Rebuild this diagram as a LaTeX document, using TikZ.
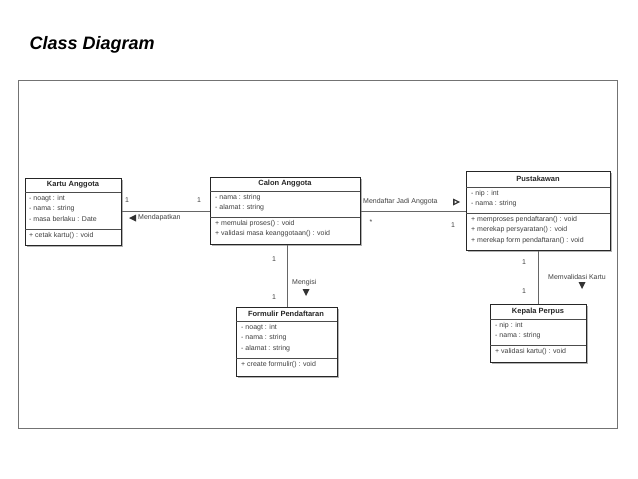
\documentclass[tikz,border=0pt]{standalone}
\usepackage{fontspec}
\setmainfont{Liberation Sans}
\begin{document}
\begin{tikzpicture}[x=1pt,y=-1pt,
  cbox/.style={draw=black!85,line width=1pt,fill=white,anchor=north west,inner sep=0pt},
  sep/.style={draw=black!70,line width=0.5pt},
  ttl/.style={font=\fontsize{7.5}{8}\selectfont\bfseries,text=black!85},
  mem/.style={font=\fontsize{7}{10.5}\selectfont,text=black!75,anchor=north west,align=left,inner sep=0pt},
  lbl/.style={font=\fontsize{7}{8}\selectfont,text=black!75,inner sep=0pt},
  conn/.style={draw=black!60,line width=0.9pt},
  tri/.style={fill=black!80}]
\useasboundingbox (0,0) rectangle (638,479);
\node[font=\fontsize{18}{20}\selectfont\bfseries\itshape,anchor=west] (title) at (26,45) {Class Diagram};
\draw[black!55,line width=0.8pt] (18,80) rectangle (617,428);
\newcommand\classbox[7]{%
  \fill[black!30] (#2+2,#3+2) rectangle (#4+2,#5+2);
  \node[cbox,minimum width=#4-#2,minimum height=#5-#3] (#1) at (#2,#3) {};
  \draw[sep] (#2,#6) -- (#4,#6);
  \draw[sep] (#2,#7) -- (#4,#7);}
\classbox{ka}{25}{178}{121}{245}{192}{229}
\node[ttl] (kat) at (73,185) {Kartu Anggota};
\node[mem] (kaa) at (29,195) {- noagt : int\\- nama : string\\- masa berlaku : Date};
\node[mem] (kam) at (29,232) {+ cetak kartu() : void};
\classbox{ca}{210}{177}{360}{244}{191}{217}
\node[ttl] (cat) at (285,184) {Calon Anggota};
\node[mem] (caa) at (215,194) {- nama : string\\- alamat : string};
\node[mem] (cam) at (215,220) {+ memulai proses() : void\\+ validasi masa keanggotaan() : void};
\classbox{pu}{466}{171}{610}{250}{187}{213}
\node[ttl] (put) at (538,179) {Pustakawan};
\node[mem] (pua) at (471,190) {- nip : int\\- nama : string};
\node[mem] (pum) at (471,216) {+ memproses pendaftaran() : void\\+ merekap persyaratan() : void\\+ merekap form pendaftaran() : void};
\classbox{kp}{490}{304}{586}{362}{319}{345}
\node[ttl] (kpt) at (538,312) {Kepala Perpus};
\node[mem] (kpa) at (495,322) {- nip : int\\- nama : string};
\node[mem] (kpm) at (495,348) {+ validasi kartu() : void};
\classbox{fp}{236}{307}{337}{376}{321}{358}
\node[ttl] (fpt) at (286,314) {Formulir Pendaftaran};
\node[mem] (fpa) at (241,324) {- noagt : int\\- nama : string\\- alamat : string};
\node[mem] (fpm) at (241,361) {+ create formulir() : void};
\draw[conn] (ka.east |- 0,211) -- (ca.west |- 0,211);
\draw[conn] (ca.east |- 0,211) -- (pu.west |- 0,211);
\draw[conn] (ca.south -| 287,0) -- (fp.north -| 287,0);
\draw[conn] (pu.south -| 538,0) -- (kp.north -| 538,0);
\node[lbl] (l1) at (127,200) {1};
\node[lbl] (l2) at (199,200) {1};
\fill[tri] (129,218) -- (136,214.5) -- (136,221.5) -- cycle;
\node[lbl,anchor=west] (m1) at (138,218) {Mendapatkan};
\node[lbl,anchor=west] (m2) at (363,202) {Mendaftar Jadi Anggota};
\fill[tri] (460,202) -- (453,198.5) -- (453,205.5) -- cycle;
\fill[white] (454.6,200.6) -- (457,202) -- (454.6,203.4) -- cycle;
\node[lbl] (l3) at (371,222) {*};
\node[lbl] (l4) at (453,225) {1};
\node[lbl] (l5) at (274,259) {1};
\node[lbl] (l6) at (274,297) {1};
\node[lbl,anchor=west] (m3) at (292,283) {Mengisi};
\fill[tri] (306,296) -- (302.5,289) -- (309.5,289) -- cycle;
\node[lbl] (l7) at (524,262) {1};
\node[lbl] (l8) at (524,291) {1};
\node[lbl,anchor=west] (m4) at (548,277) {Memvalidasi Kartu};
\fill[tri] (582,289) -- (578.5,282) -- (585.5,282) -- cycle;
\end{tikzpicture}
\end{document}
